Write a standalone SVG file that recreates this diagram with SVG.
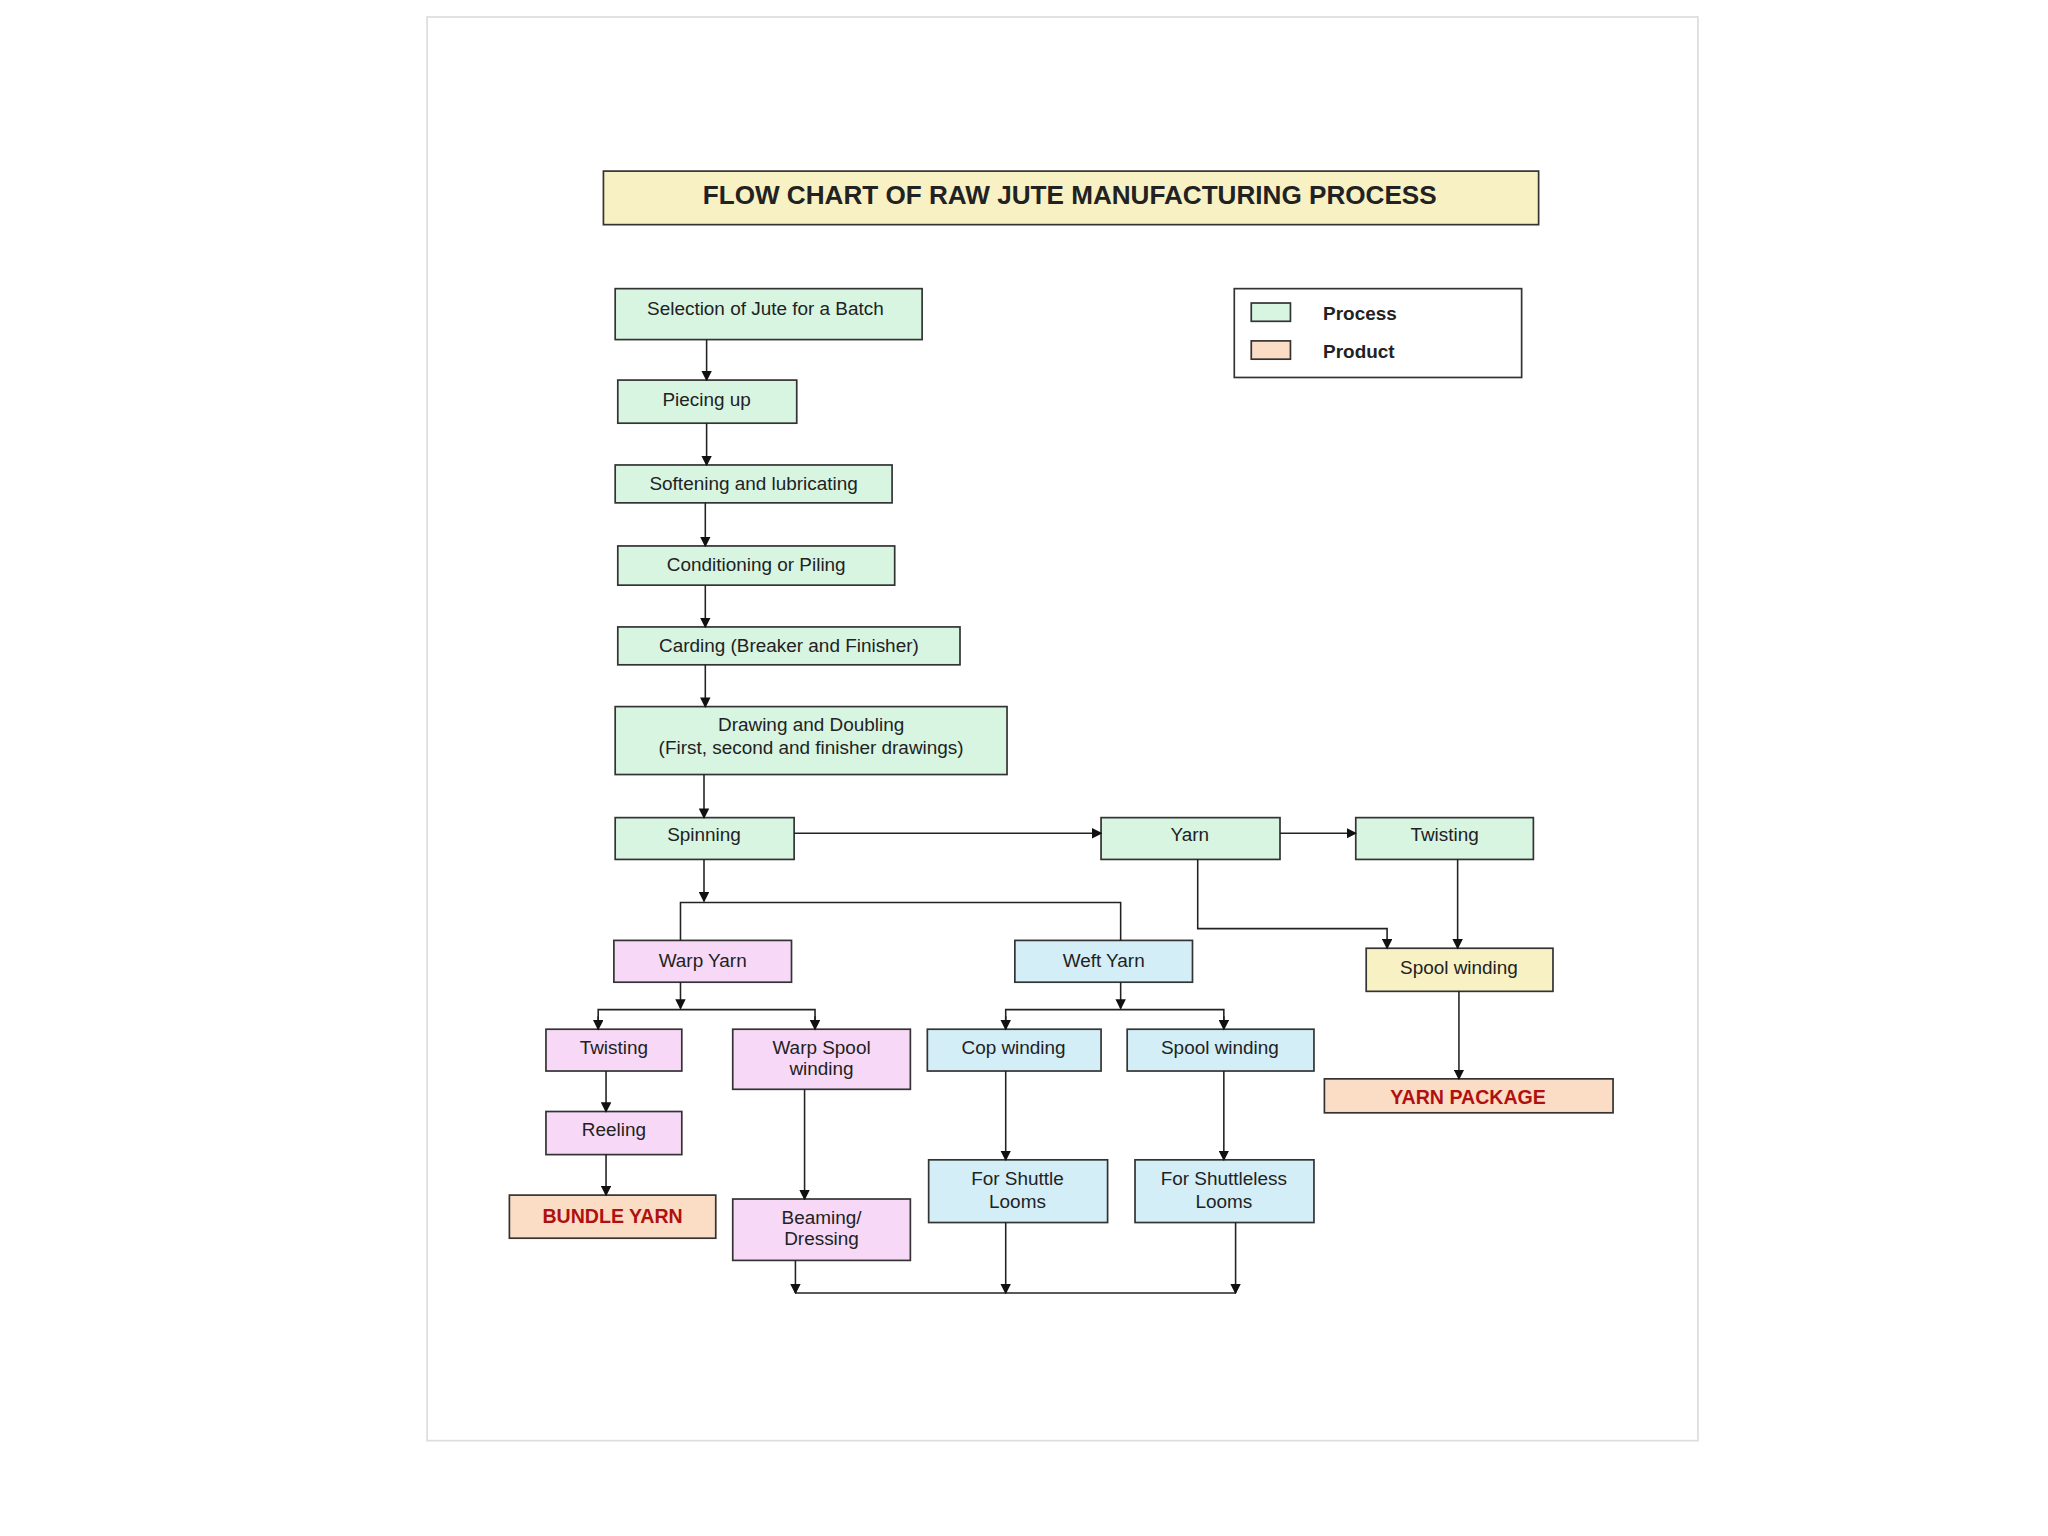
<svg xmlns="http://www.w3.org/2000/svg" width="2048" height="1536" viewBox="0 0 2048 1536">
<defs>
<marker id="a" markerWidth="8" markerHeight="8" refX="7" refY="4" orient="auto" markerUnits="userSpaceOnUse"><path d="M0,0 L8,4 L0,8 Z" fill="#111"/></marker>
<style>
rect{stroke:#333;stroke-width:1.3}
.g{fill:#d8f5e2}.p{fill:#f7d9f7}.b{fill:#d3eef7}.y{fill:#f7f1c4}.o{fill:#fbdcc4}
text{font-family:"Liberation Sans",Arial,sans-serif;font-size:14.5px;fill:#222;text-anchor:middle}
.r{fill:#b01010;font-weight:bold;font-size:15px}
#c path{fill:none;stroke:#222;stroke-width:1.2}
</style>
</defs>
<rect width="2048" height="1536" fill="#fff" style="stroke:none"/>
<g transform="scale(1.30612)">
<rect x="327" y="13" width="973" height="1090" fill="#fff" style="stroke:#ddd"/>
<g id="title"><rect x="462" y="131" width="716" height="41" class="y"/><text x="819" y="156" style="font-size:20px;font-weight:bold">FLOW CHART OF RAW JUTE MANUFACTURING PROCESS</text></g>
<g id="legend"><rect x="945" y="221" width="220" height="68" fill="#fff"/><rect x="958" y="232" width="30" height="14" class="g"/><rect x="958" y="261" width="30" height="14" class="o"/><text x="1013" y="245" style="text-anchor:start;font-weight:bold">Process</text><text x="1013" y="274" style="text-anchor:start;font-weight:bold">Product</text></g>
<g id="n1"><rect x="471" y="221" width="235" height="39" class="g"/><text x="586" y="241">Selection of Jute for a Batch</text></g>
<g id="n2"><rect x="473" y="291" width="137" height="33" class="g"/><text x="541" y="311">Piecing up</text></g>
<g id="n3"><rect x="471" y="356" width="212" height="29" class="g"/><text x="577" y="375">Softening and lubricating</text></g>
<g id="n4"><rect x="473" y="418" width="212" height="30" class="g"/><text x="579" y="437">Conditioning or Piling</text></g>
<g id="n5"><rect x="473" y="480" width="262" height="29" class="g"/><text x="604" y="499">Carding (Breaker and Finisher)</text></g>
<g id="n6"><rect x="471" y="541" width="300" height="52" class="g"/><text x="621" y="560">Drawing and Doubling</text><text x="621" y="577">(First, second and finisher drawings)</text></g>
<g id="n7"><rect x="471" y="626" width="137" height="32" class="g"/><text x="539" y="644">Spinning</text></g>
<g id="n8"><rect x="843" y="626" width="137" height="32" class="g"/><text x="911" y="644">Yarn</text></g>
<g id="n9"><rect x="1038" y="626" width="136" height="32" class="g"/><text x="1106" y="644">Twisting</text></g>
<g id="n10"><rect x="1046" y="726" width="143" height="33" class="y"/><text x="1117" y="746">Spool winding</text></g>
<g id="n11"><rect x="1014" y="826" width="221" height="26" class="o"/><text x="1124" y="845" class="r">YARN PACKAGE</text></g>
<g id="n12"><rect x="470" y="720" width="136" height="32" class="p"/><text x="538" y="740">Warp Yarn</text></g>
<g id="n13"><rect x="777" y="720" width="136" height="32" class="b"/><text x="845" y="740">Weft Yarn</text></g>
<g id="n14"><rect x="418" y="788" width="104" height="32" class="p"/><text x="470" y="807">Twisting</text></g>
<g id="n15"><rect x="561" y="788" width="136" height="46" class="p"/><text x="629" y="807">Warp Spool</text><text x="629" y="823">winding</text></g>
<g id="n16"><rect x="710" y="788" width="133" height="32" class="b"/><text x="776" y="807">Cop winding</text></g>
<g id="n17"><rect x="863" y="788" width="143" height="32" class="b"/><text x="934" y="807">Spool winding</text></g>
<g id="n18"><rect x="418" y="851" width="104" height="33" class="p"/><text x="470" y="870">Reeling</text></g>
<g id="n19"><rect x="390" y="915" width="158" height="33" class="o"/><text x="469" y="936" class="r">BUNDLE YARN</text></g>
<g id="n20"><rect x="561" y="918" width="136" height="47" class="p"/><text x="629" y="937">Beaming/</text><text x="629" y="953">Dressing</text></g>
<g id="n21"><rect x="711" y="888" width="137" height="48" class="b"/><text x="779" y="907">For Shuttle</text><text x="779" y="925">Looms</text></g>
<g id="n22"><rect x="869" y="888" width="137" height="48" class="b"/><text x="937" y="907">For Shuttleless</text><text x="937" y="925">Looms</text></g>
<g id="c">
<path d="M541,260V291" marker-end="url(#a)"/>
<path d="M541,324V356" marker-end="url(#a)"/>
<path d="M540,385V418" marker-end="url(#a)"/>
<path d="M540,448V480" marker-end="url(#a)"/>
<path d="M540,509V541" marker-end="url(#a)"/>
<path d="M539,593V626" marker-end="url(#a)"/>
<path d="M608,638H843" marker-end="url(#a)"/>
<path d="M980,638H1038" marker-end="url(#a)"/>
<path d="M539,658V690" marker-end="url(#a)"/>
<path d="M521,720V691H858V720"/>
<path d="M917,658V711H1062V726" marker-end="url(#a)"/>
<path d="M1116,658V726" marker-end="url(#a)"/>
<path d="M1117,759V826" marker-end="url(#a)"/>
<path d="M521,752V772" marker-end="url(#a)"/>
<path d="M458,783V773H624V783"/>
<path d="M458,778V788" marker-end="url(#a)"/>
<path d="M624,778V788" marker-end="url(#a)"/>
<path d="M858,752V772" marker-end="url(#a)"/>
<path d="M770,783V773H937V783"/>
<path d="M770,778V788" marker-end="url(#a)"/>
<path d="M937,778V788" marker-end="url(#a)"/>
<path d="M464,820V851" marker-end="url(#a)"/>
<path d="M464,884V915" marker-end="url(#a)"/>
<path d="M616,834V918" marker-end="url(#a)"/>
<path d="M770,820V888" marker-end="url(#a)"/>
<path d="M937,820V888" marker-end="url(#a)"/>
<path d="M609,990H946"/>
<path d="M609,965V990" marker-end="url(#a)"/>
<path d="M770,936V990" marker-end="url(#a)"/>
<path d="M946,936V990" marker-end="url(#a)"/>
</g>
</g>
</svg>
